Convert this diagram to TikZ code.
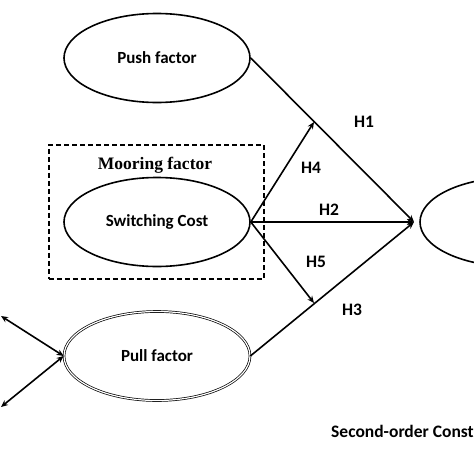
\documentclass[tikz,border=0pt]{standalone}
\usepackage{fontspec}
\setmainfont{Carlito}
\newfontfamily\serifbold{Liberation Serif}
\usetikzlibrary{arrows.meta,shapes.geometric}
\begin{document}
\begin{tikzpicture}[x=1pt,y=-1pt,
  every node/.style={font=\fontsize{17}{20}\selectfont\bfseries, inner sep=0pt},
  construct/.style={draw, ellipse, line width=1.6pt, minimum width=186pt, minimum height=89pt},
  pullstyle/.style={draw, ellipse, double, line width=0.7pt, double distance=1.2pt, minimum width=186pt, minimum height=89pt},
  hyp/.style={line width=1.6pt, -{Stealth[length=7pt,width=6pt]}},
  lbl/.style={font=\fontsize{17.5}{20}\selectfont\bfseries}]
\useasboundingbox (0,0) rectangle (474,474);
\begin{scope}
\clip (0,0) rectangle (474,474);
% nodes
\node[construct] (push) at (157,58) {Push factor};
\node[construct] (sc) at (157,222) {Switching Cost};
\node[pullstyle] (pull) at (157,356) {Pull factor};
\node[construct] (out) at (513,222) {};
\node[draw, dash pattern=on 5pt off 3pt, line width=1.6pt, minimum width=215pt, minimum height=134pt, anchor=north west] (moor) at (48,144) {};
\node[font=\fontsize{17.5}{20}\selectfont\serifbold\bfseries] (moorlbl) at (155,165) {Mooring factor};
\coordinate (tip) at (414,222);
\coordinate (m1) at (314,122);
\coordinate (m3) at (314,303);
\coordinate (ind1) at (1,316);
\coordinate (ind2) at (1,407);
% connectors
\draw[hyp] (push.east) -- (tip);
\draw[hyp] (sc.east) -- (tip);
\draw[hyp] (pull.east) -- (tip);
\draw[hyp] (sc.east) -- (m1);
\draw[hyp] (sc.east) -- (m3);
\draw[line width=1.6pt, {Stealth[length=7pt,width=6pt]}-{Stealth[length=7pt,width=6pt]}] (ind1) -- (pull.west);
\draw[line width=1.6pt, {Stealth[length=7pt,width=6pt]}-{Stealth[length=7pt,width=6pt]}] (ind2) -- (pull.west);
% labels
\node[lbl] (h1) at (364,122) {H1};
\node[lbl] (h2) at (329,210) {H2};
\node[lbl] (h3) at (352,310) {H3};
\node[lbl] (h4) at (311,168) {H4};
\node[lbl] (h5) at (316,262) {H5};
\node[lbl, anchor=west] (soc) at (331,431) {Second-order Const};
\end{scope}
\end{tikzpicture}
\end{document}
